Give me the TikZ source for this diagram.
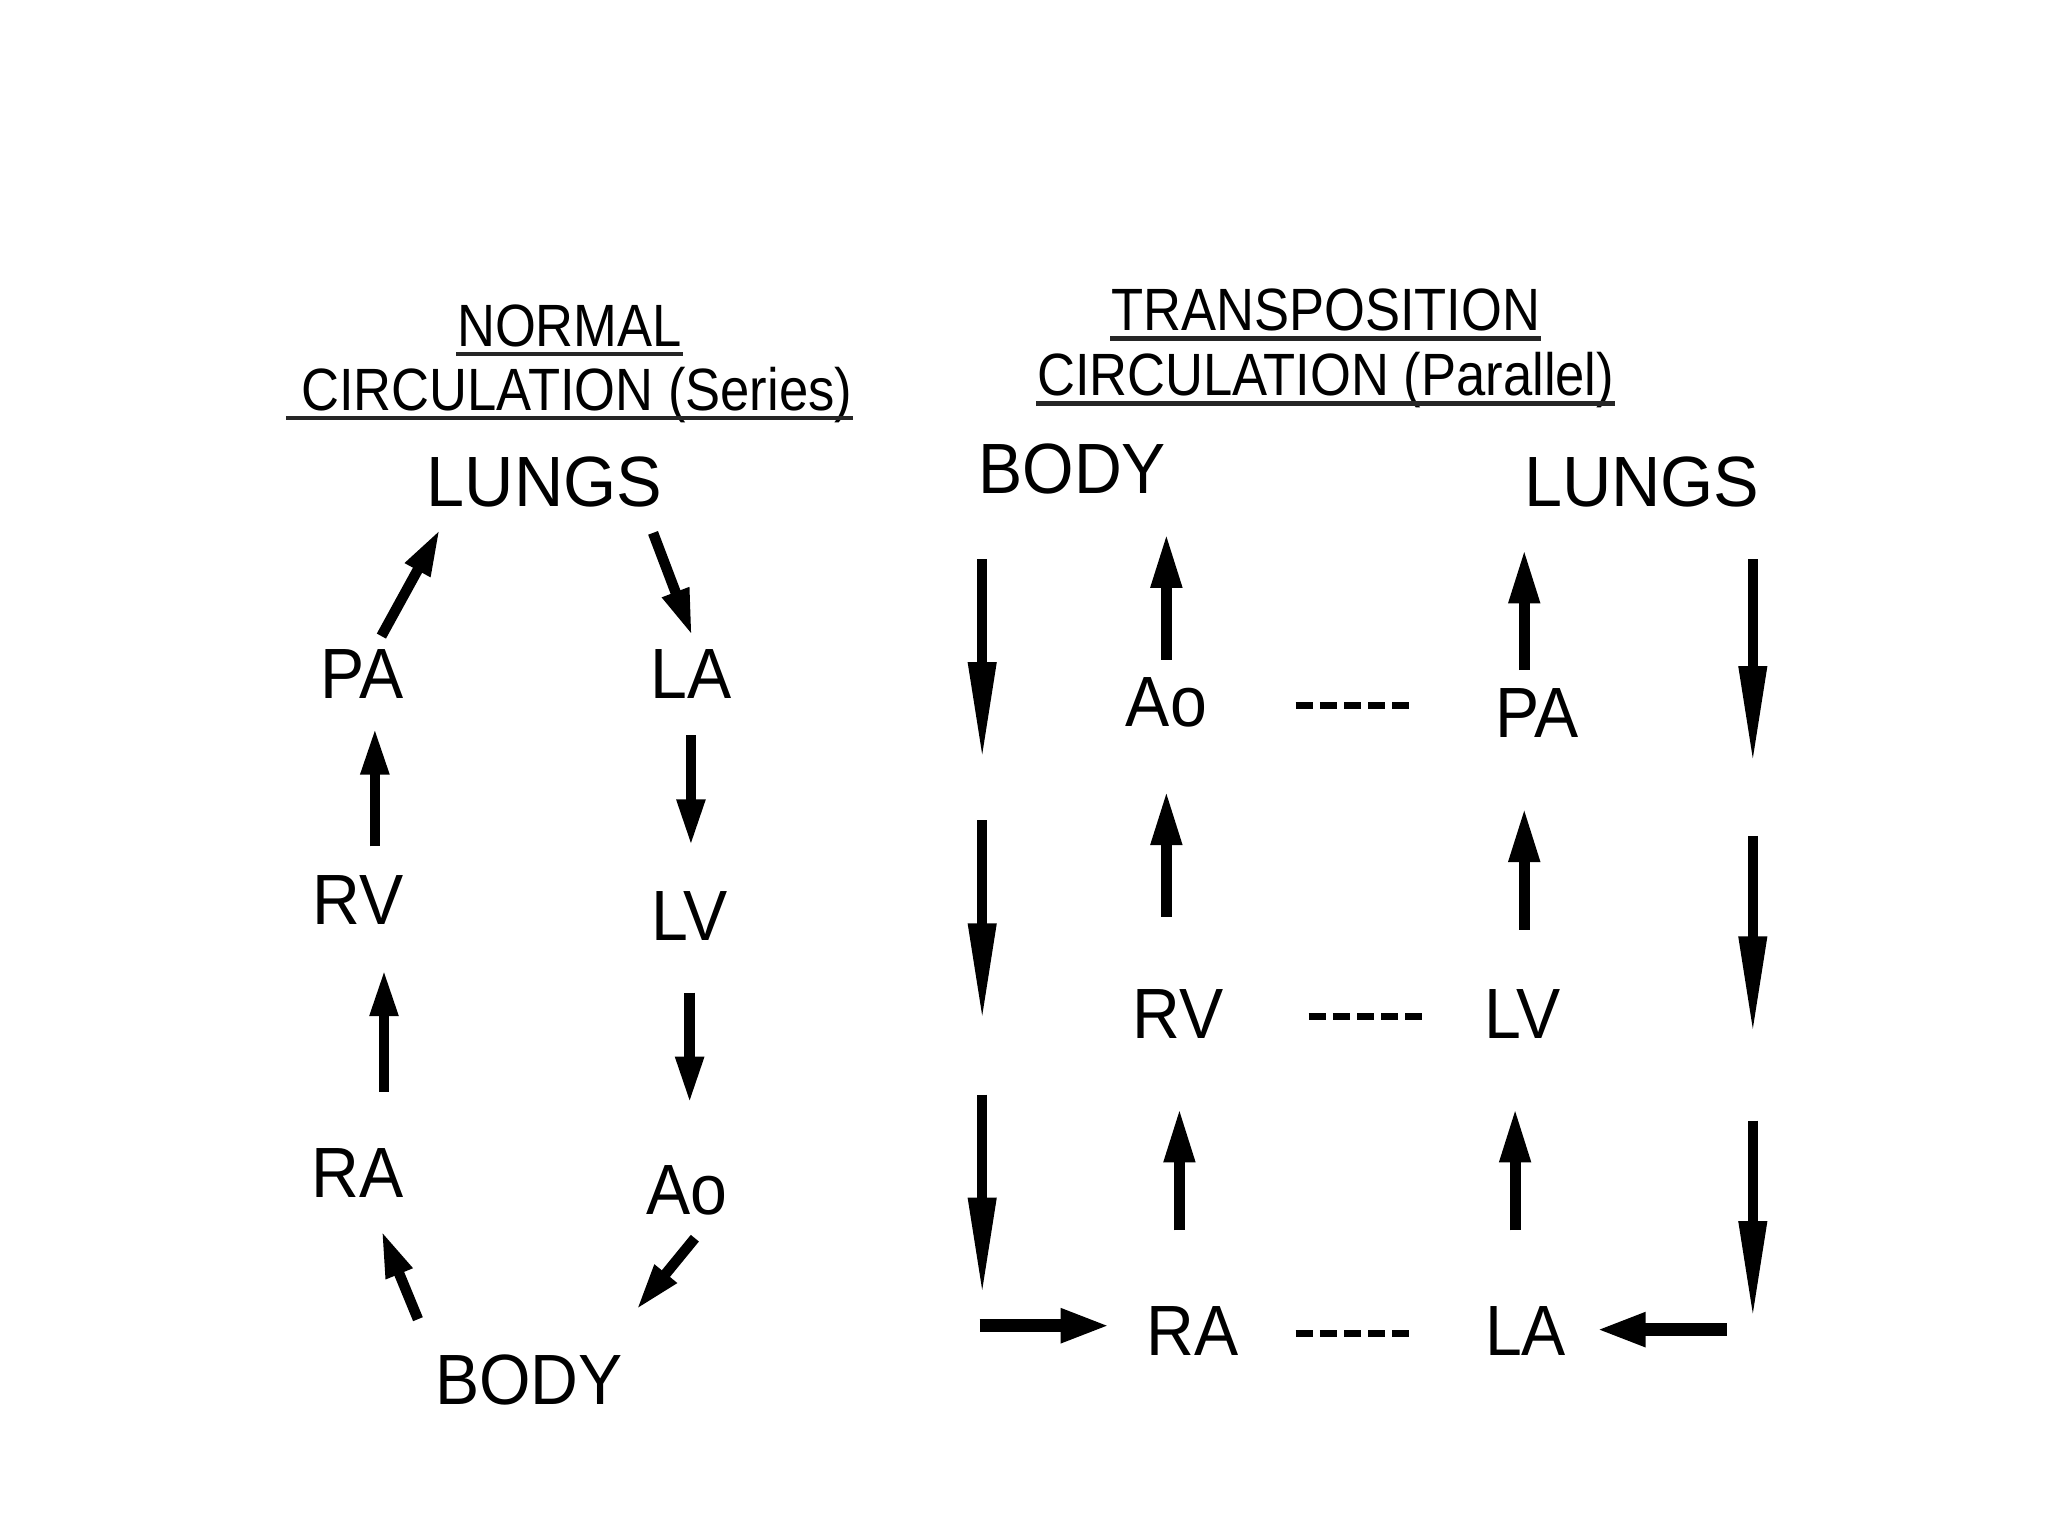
\documentclass[tikz,border=0pt]{standalone}
\usepackage{fontspec}
\setmainfont{Liberation Sans}
\usetikzlibrary{arrows.meta}
\begin{document}
\begin{tikzpicture}[x=0.01cm,y=-0.01cm,
 lab/.style={inner sep=0pt, anchor=base, font=\fontsize{15.5}{18}\selectfont},
 ttl/.style={inner sep=0pt, anchor=base, font=\fontsize{13}{15}\selectfont},
 uline/.style={line width=0.035cm, black!85},
 arrL/.style={line width=0.08cm, -{Triangle[length=0.36cm,width=0.2cm]}},
 arrO/.style={line width=0.075cm, -{Triangle[length=0.75cm,width=0.2cm]}},
 arrM/.style={line width=0.085cm, -{Triangle[length=0.42cm,width=0.22cm]}},
 arrH/.style={line width=0.1cm, -{Triangle[length=0.38cm,width=0.24cm]}},
 dsh/.style={line width=0.055cm, dash pattern=on 0.13cm off 0.055cm},
]
\useasboundingbox (0,0) rectangle (1568,1176);

% ---------- left panel: titles ----------
\node[ttl] (t1) at (436,265) {\scalebox{0.88}[1]{NORMAL}};
\node[ttl] (t2) at (436,314) {\scalebox{0.88}[1]{\ CIRCULATION (Series)}};
\draw[uline] ([yshift=-0.06cm]t1.base west) -- ([yshift=-0.06cm]t1.base east);
\draw[uline] ([yshift=-0.06cm]t2.base west) -- ([yshift=-0.06cm]t2.base east);

% ---------- left panel: labels ----------
\node[lab] (lLUNGS) at (417,388) {\scalebox{0.96}[1]{LUNGS}};
\node[lab] (lPA) at (277,535) {\scalebox{0.93}[1]{PA}};
\node[lab] (lLA) at (529,535) {\scalebox{0.93}[1]{LA}};
\node[lab] (lRV) at (274,708) {\scalebox{0.93}[1]{RV}};
\node[lab] (lLV) at (528,720) {\scalebox{0.93}[1]{LV}};
\node[lab] (lRA) at (274,917) {\scalebox{0.93}[1]{RA}};
\node[lab] (lAo) at (526,930) {\scalebox{0.93}[1]{Ao}};
\node[lab] (lBODY) at (405,1075) {\scalebox{0.93}[1]{BODY}};

% ---------- left panel: arrow end points ----------
\coordinate (p1) at (292,487); \coordinate (q1) at (337,405);
\coordinate (p2) at (500,408); \coordinate (q2) at (530,487);
\coordinate (p3) at (287,648); \coordinate (q3) at (287,557);
\coordinate (p4) at (529,563); \coordinate (q4) at (529,648);
\coordinate (p5) at (294,836); \coordinate (q5) at (294,742);
\coordinate (p6) at (528,760); \coordinate (q6) at (528,845);
\coordinate (p7) at (320,1010); \coordinate (q7) at (292,942);
\coordinate (p8) at (532,948); \coordinate (q8) at (487,1003);
\foreach \i in {1,...,8} {\draw[arrL] (p\i) -- (q\i);}

% ---------- right panel: titles ----------
\node[ttl] (t3) at (1015,253) {\scalebox{0.88}[1]{TRANSPOSITION}};
\node[ttl] (t4) at (1015,303) {\scalebox{0.88}[1]{CIRCULATION (Parallel)}};
\draw[uline] ([yshift=-0.06cm]t3.base west) -- ([yshift=-0.06cm]t3.base east);
\draw[uline] ([yshift=-0.06cm]t4.base west) -- ([yshift=-0.06cm]t4.base east);

% ---------- right panel: labels ----------
\node[lab] (rBODY) at (821,378) {\scalebox{0.93}[1]{BODY}};
\node[lab] (rLUNGS) at (1257,388) {\scalebox{0.96}[1]{LUNGS}};
\node[lab] (rAo) at (893,556) {\scalebox{0.93}[1]{Ao}};
\node[lab] (rPA) at (1177,565) {\scalebox{0.93}[1]{PA}};
\node[lab] (rRV) at (902,795) {\scalebox{0.93}[1]{RV}};
\node[lab] (rLV) at (1166,795) {\scalebox{0.93}[1]{LV}};
\node[lab] (rRA) at (913,1038) {\scalebox{0.93}[1]{RA}};
\node[lab] (rLA) at (1168,1038) {\scalebox{0.93}[1]{LA}};

% dashed links
\coordinate (d1a) at (992,540);  \coordinate (d1b) at (1080,540);
\coordinate (d2a) at (1002,778); \coordinate (d2b) at (1090,778);
\coordinate (d3a) at (992,1021); \coordinate (d3b) at (1080,1021);
\draw[dsh] (d1a) -- (d1b);
\draw[dsh] (d2a) -- (d2b);
\draw[dsh] (d3a) -- (d3b);

% outer columns (down)
\coordinate (o1s) at (752,428); \coordinate (o1e) at (752,582);
\coordinate (o2s) at (752,628); \coordinate (o2e) at (752,782);
\coordinate (o3s) at (752,838); \coordinate (o3e) at (752,992);
\coordinate (o4s) at (1342,428); \coordinate (o4e) at (1342,585);
\coordinate (o5s) at (1342,640); \coordinate (o5e) at (1342,792);
\coordinate (o6s) at (1342,858); \coordinate (o6e) at (1342,1010);
\foreach \i in {1,...,6} {\draw[arrO] (o\i s) -- (o\i e);}

% middle columns (up)
\coordinate (m1s) at (893,505); \coordinate (m1e) at (893,408);
\coordinate (m2s) at (893,702); \coordinate (m2e) at (893,605);
\coordinate (m3s) at (903,942); \coordinate (m3e) at (903,848);
\coordinate (m4s) at (1167,513); \coordinate (m4e) at (1167,420);
\coordinate (m5s) at (1167,712); \coordinate (m5e) at (1167,618);
\coordinate (m6s) at (1160,942); \coordinate (m6e) at (1160,848);
\foreach \i in {1,...,6} {\draw[arrM] (m\i s) -- (m\i e);}

% bottom horizontal arrows
\coordinate (h1s) at (750,1015); \coordinate (h1e) at (850,1015);
\coordinate (h2s) at (1322,1018); \coordinate (h2e) at (1222,1018);
\draw[arrH] (h1s) -- (h1e);
\draw[arrH] (h2s) -- (h2e);
\end{tikzpicture}
\end{document}
